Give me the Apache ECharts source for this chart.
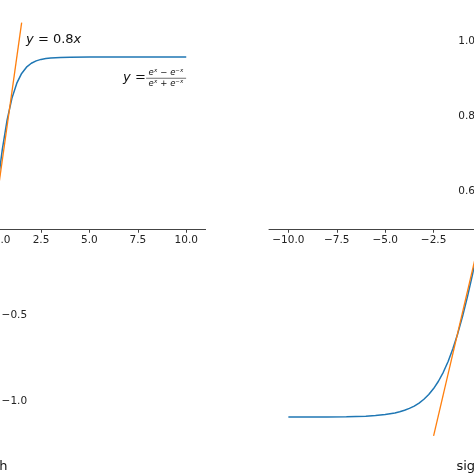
<!DOCTYPE html>
<html><head><meta charset="utf-8">
<script src="https://cdn.jsdelivr.net/npm/echarts@6/dist/echarts.min.js"></script>
<style>html,body{margin:0;padding:0;background:#fff;}#c{width:474px;height:474px;}</style>
</head><body><div id="c"></div>
<script>
// ---- data ----
const tanhX = [-10,-8,-6,-5,-4,-3.5,-3,-2.75,-2.5,-2.25,-2,-1.75,-1.5,-1.25,-1,-0.75,-0.5,-0.25,0,0.25,0.5,0.75,1,1.25,1.5,1.75,2,2.25,2.5,2.75,3,3.5,4,5,6,8,10];
const tanhY = [-1.0,-1.0,-1.0,-0.9999,-0.9993,-0.9982,-0.9951,-0.9918,-0.9866,-0.9780,-0.9640,-0.9414,-0.9051,-0.8483,-0.7616,-0.6351,-0.4621,-0.2449,0,0.2449,0.4621,0.6351,0.7616,0.8483,0.9051,0.9414,0.9640,0.9780,0.9866,0.9918,0.9951,0.9982,0.9993,0.9999,1.0,1.0,1.0];
const tanhLineX = [-1.5, 1.5];
const tanhLineY = [-1.2, 1.2];

const sigX = [-10,-8,-7,-6,-5.5,-5,-4.5,-4.25,-4,-3.75,-3.5,-3.25,-3,-2.75,-2.5,-2.25,-2,-1.75,-1.5,-1.25,-1,-0.75,-0.5,-0.25,0,0.25,0.5,0.75,1,1.25,1.5,1.75,2,2.25,2.5,2.75,3,3.25,3.5,3.75,4,4.25,4.5,5,5.5,6,7,8,10];
const sigY = [0.0000454,0.000335,0.000911,0.00247,0.00407,0.00669,0.0110,0.0141,0.0180,0.0230,0.0293,0.0373,0.0474,0.0601,0.0759,0.0953,0.1192,0.1480,0.1824,0.2227,0.2689,0.3208,0.3775,0.4378,0.5,0.5622,0.6225,0.6792,0.7311,0.7773,0.8176,0.8520,0.8808,0.9047,0.9241,0.9399,0.9526,0.9627,0.9707,0.9770,0.9820,0.9859,0.9890,0.9933,0.9959,0.9975,0.9991,0.9997,1.0];
const sigLineX = [-2.5, 2.5];
const sigLineY = [-0.05, 1.05];

const xTicks = [-10,-7.5,-5,-2.5,0,2.5,5,7.5,10];
const tanhYLabels = [-1.0,-0.5];
const sigYLabels = [0.6,0.8,1.0];
const titles = ['tanh', 'sigmoid'];

// ---- chart ----
const zip = (xs, ys) => xs.map((x, i) => [x, ys[i]]);
const fmt = v => (v < 0 ? '\u2212' : '') + Math.abs(v).toFixed(1);
const FONT = 'DejaVu Sans';
const AX = '#444';
const BLUE = '#1f77b4', ORANGE = '#ff7f0e';

const GH = 454.5, GTOP = 2, GW = 426;
const chart = echarts.init(document.getElementById('c'), null, {renderer: 'canvas'});
const lbl = {fontSize: 10.5, color: '#222', fontFamily: FONT};

function xAxisCfg(gi, labelExtra) {
  return {
    type: 'value', gridIndex: gi, min: -11, max: 11,
    position: 'bottom', offset: -(GH / 2),
    splitLine: {show: false},
    axisLine: {show: true, onZero: false, lineStyle: {color: AX, width: 1}},
    axisTick: {show: true, customValues: xTicks, length: 3.5, lineStyle: {color: AX, width: 1}},
    axisLabel: Object.assign({customValues: xTicks, margin: 6, formatter: v => fmt(v)}, lbl, labelExtra || {})
  };
}

chart.setOption({
  animation: false,
  backgroundColor: '#fff',
  grid: [
    {left: -220.4, top: GTOP, width: GW, height: GH, outerBoundsMode: 'none', containLabel: false},
    {left: 269, top: GTOP, width: GW, height: GH, outerBoundsMode: 'none', containLabel: false}
  ],
  xAxis: [
    xAxisCfg(0, {
      formatter: v => v === 0 ? '{z|0.0}' : fmt(v),
      rich: {z: Object.assign({padding: [0, 0, 0, 19]}, lbl)}
    }),
    xAxisCfg(1)
  ],
  yAxis: [
    {type: 'value', gridIndex: 0, min: -1.32, max: 1.32, splitLine: {show: false},
     position: 'left', offset: -(GW / 2),
     axisLine: {show: true, onZero: false, lineStyle: {color: AX, width: 1}},
     axisTick: {show: false},
     axisLabel: Object.assign({customValues: tanhYLabels, inside: true, margin: 9, formatter: v => fmt(v)}, lbl)},
    {type: 'value', gridIndex: 1, min: -0.105, max: 1.105, splitLine: {show: false},
     position: 'left', offset: -(GW / 2),
     axisLine: {show: true, onZero: false, lineStyle: {color: AX, width: 1}},
     axisTick: {show: true, customValues: sigYLabels, length: 3.5, lineStyle: {color: AX}},
     axisLabel: Object.assign({customValues: sigYLabels, margin: 7, formatter: v => fmt(v)}, lbl)}
  ],
  series: [
    {type: 'line', xAxisIndex: 0, yAxisIndex: 0, data: zip(tanhX, tanhY), showSymbol: false, symbol: 'none',
     smooth: false, lineStyle: {color: BLUE, width: 1.5}, itemStyle: {color: BLUE}},
    {type: 'line', xAxisIndex: 0, yAxisIndex: 0, data: zip(tanhLineX, tanhLineY), symbol: 'none',
     lineStyle: {color: ORANGE, width: 1.3}, itemStyle: {color: ORANGE}},
    {type: 'line', xAxisIndex: 1, yAxisIndex: 1, data: zip(sigX, sigY), showSymbol: false, symbol: 'none',
     smooth: false, lineStyle: {color: BLUE, width: 1.5}, itemStyle: {color: BLUE}},
    {type: 'line', xAxisIndex: 1, yAxisIndex: 1, data: zip(sigLineX, sigLineY), symbol: 'none',
     lineStyle: {color: ORANGE, width: 1.3}, itemStyle: {color: ORANGE}}
  ]
});

// ---- annotations placed from data coordinates ----
const a1 = chart.convertToPixel({gridIndex: 0}, [1.73, 1.10]);
const a2 = chart.convertToPixel({gridIndex: 0}, [6.74, 0.88]);
const t0 = chart.convertToPixel({gridIndex: 0}, [0, -1.32]);
const t1 = chart.convertToPixel({gridIndex: 1}, [0, -0.105]);
const it = {i: {fontStyle: 'italic', fontSize: 13, fontFamily: FONT, fill: '#111'}};
const sup = 'e\u02E3';
const supn = 'e\u207B\u02E3';
chart.setOption({
  graphic: [
    {type: 'text', x: a1[0], y: a1[1], style: {text: '{i|y} = 0.8{i|x}', rich: it, fontSize: 13,
      fontFamily: FONT, fill: '#111', align: 'left', verticalAlign: 'middle'}},
    {type: 'text', x: a2[0], y: a2[1], style: {text: '{i|y} =', rich: it, fontSize: 13,
      fontFamily: FONT, fill: '#111', align: 'left', verticalAlign: 'middle'}},
    {type: 'text', x: a2[0] + 43, y: a2[1] - 4.5, style: {text: sup + ' \u2212 ' + supn, fontSize: 8.5,
      fontStyle: 'italic', fontFamily: FONT, fill: '#111', align: 'center', verticalAlign: 'middle'}},
    {type: 'line', shape: {x1: a2[0] + 23, y1: a2[1] + 0.5, x2: a2[0] + 63, y2: a2[1] + 0.5},
      style: {stroke: '#333', lineWidth: 0.7}},
    {type: 'text', x: a2[0] + 43, y: a2[1] + 6, style: {text: sup + ' + ' + supn, fontSize: 8.5,
      fontStyle: 'italic', fontFamily: FONT, fill: '#111', align: 'center', verticalAlign: 'middle'}},
    {type: 'text', x: t0[0], y: t0[1] + 4, style: {text: titles[0], fontSize: 13, fontFamily: FONT,
      fill: '#111', align: 'center', verticalAlign: 'top'}},
    {type: 'text', x: t1[0], y: t1[1] + 4, style: {text: titles[1], fontSize: 13, fontFamily: FONT,
      fill: '#111', align: 'center', verticalAlign: 'top'}}
  ]
});
</script>
</body></html>
